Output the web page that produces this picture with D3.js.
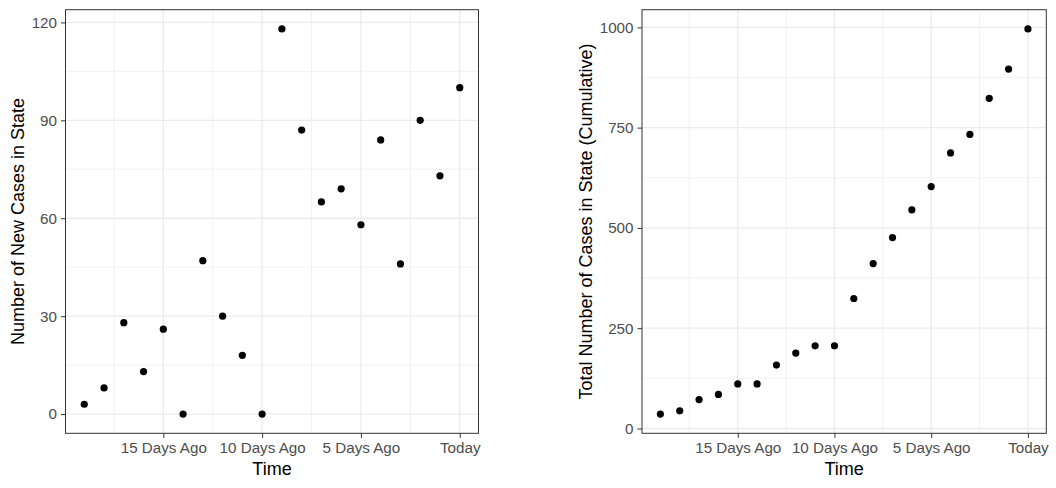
<!DOCTYPE html>
<html>
<head>
<meta charset="utf-8">
<script src="https://cdn.jsdelivr.net/npm/d3@7"></script>
<style>
  html, body { margin: 0; padding: 0; background: #ffffff; }
  svg { display: block; font-family: "Liberation Sans", Arial, Helvetica, sans-serif; }
</style>
</head>
<body>
<svg id="chart" width="1056" height="488"></svg>
<script>
// ---- data ----
const days = [-19, -18, -17, -16, -15, -14, -13, -12, -11, -10, -9, -8, -7, -6, -5, -4, -3, -2, -1, 0];
const newCases = [3, 8, 28, 13, 26, 0, 47, 30, 18, 0, 118, 87, 65, 69, 58, 84, 46, 90, 73, 100];
const totalCases = [36, 44, 72, 85, 111, 111, 158, 188, 206, 206, 324, 411, 476, 545, 603, 687, 733, 823, 896, 996];
const xTickValues = [-15, -10, -5, 0];
const xTickLabels = ["15 Days Ago", "10 Days Ago", "5 Days Ago", "Today"];
const leftYTicks = [0, 30, 60, 90, 120];
const leftYMinor = [15, 45, 75, 105];
const rightYTicks = [0, 250, 500, 750, 1000];
const rightYMinor = [125, 375, 625, 875];
const xMinor = [-17.5, -12.5, -7.5, -2.5];

const svg = d3.select("#chart");

function expand(ext) {
  const pad = (ext[1] - ext[0]) * 0.05;
  return [ext[0] - pad, ext[1] + pad];
}

function panel(opts) {
  const { left, right, top, bottom, values, yTicks, yMinor, yTitle } = opts;
  const g = svg.append("g");
  const x = d3.scaleLinear().domain(expand(d3.extent(days))).range([left, right]);
  const y = d3.scaleLinear().domain(expand(d3.extent(values))).range([bottom, top]);

  // minor grid
  g.selectAll(".vminor").data(xMinor).join("line")
    .attr("x1", d => x(d)).attr("x2", d => x(d)).attr("y1", top).attr("y2", bottom)
    .attr("stroke", "#ebebeb").attr("stroke-width", 0.7);
  g.selectAll(".hminor").data(yMinor).join("line")
    .attr("x1", left).attr("x2", right).attr("y1", d => y(d)).attr("y2", d => y(d))
    .attr("stroke", "#ebebeb").attr("stroke-width", 0.7);
  // major grid
  g.selectAll(".vmajor").data(xTickValues).join("line")
    .attr("x1", d => x(d)).attr("x2", d => x(d)).attr("y1", top).attr("y2", bottom)
    .attr("stroke", "#ebebeb").attr("stroke-width", 1.3);
  g.selectAll(".hmajor").data(yTicks).join("line")
    .attr("x1", left).attr("x2", right).attr("y1", d => y(d)).attr("y2", d => y(d))
    .attr("stroke", "#ebebeb").attr("stroke-width", 1.3);

  // points
  g.selectAll("circle").data(days).join("circle")
    .attr("cx", d => x(d)).attr("cy", (d, i) => y(values[i]))
    .attr("r", 3.6).attr("fill", "#000");

  // border
  g.append("rect").attr("x", left).attr("y", top)
    .attr("width", right - left).attr("height", bottom - top)
    .attr("fill", "none").attr("stroke", "#333333").attr("stroke-width", 1);

  // axes
  const xAxis = d3.axisBottom(x).tickValues(xTickValues)
    .tickFormat((d, i) => xTickLabels[i]).tickSize(4.5).tickPadding(4);
  const gx = g.append("g").attr("transform", `translate(0,${bottom})`).call(xAxis);
  const yAxis = d3.axisLeft(y).tickValues(yTicks).tickFormat(d3.format("d"))
    .tickSize(4.5).tickPadding(4);
  const gy = g.append("g").attr("transform", `translate(${left},0)`).call(yAxis);
  [gx, gy].forEach(a => {
    a.select(".domain").remove();
    a.selectAll(".tick line").attr("stroke", "#333333").attr("stroke-width", 1);
    a.selectAll(".tick text").attr("fill", "#4d4d4d")
      .style("font-size", "15.2px").style("font-family", "'Liberation Sans', Arial, sans-serif");
  });

  // titles
  g.append("text").attr("x", (left + right) / 2).attr("y", 475)
    .attr("text-anchor", "middle").attr("fill", "#000")
    .style("font-size", "18px").text("Time");
  g.append("text")
    .attr("transform", `translate(${opts.yTitleX},${(top + bottom) / 2}) rotate(-90)`)
    .attr("text-anchor", "middle").attr("fill", "#000")
    .style("font-size", "18px").text(yTitle);
}

panel({ left: 65.5, right: 478.5, top: 9.7, bottom: 433.3, values: newCases,
  yTicks: leftYTicks, yMinor: leftYMinor, yTitle: "Number of New Cases in State", yTitleX: 24 });
panel({ left: 642, right: 1046.3, top: 9.7, bottom: 433.3, values: totalCases,
  yTicks: rightYTicks, yMinor: rightYMinor, yTitle: "Total Number of Cases in State (Cumulative)", yTitleX: 591.5 });
</script>
</body>
</html>
